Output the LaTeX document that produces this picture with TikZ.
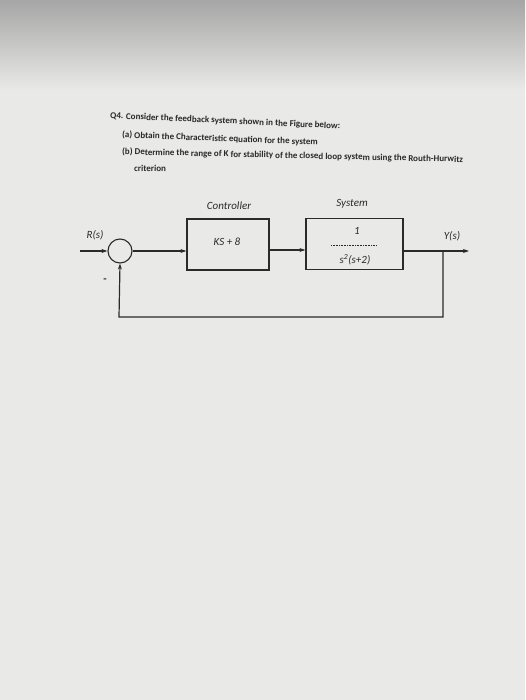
\documentclass[tikz,border=0pt]{standalone}
\usepackage{fontspec}
\setmainfont{Carlito}
\usetikzlibrary{arrows.meta}
\definecolor{paper}{HTML}{E9E9E7}
\definecolor{ink}{HTML}{2A2A2A}
\begin{document}
\begin{tikzpicture}[x=1pt,y=-1pt,
  qtext/.style={anchor=west,inner sep=0pt,font=\fontsize{9}{10}\selectfont\bfseries,text=ink},
  dlabel/.style={inner sep=0pt,font=\fontsize{11}{12}\selectfont\itshape,text=ink},
  blockbox/.style={draw=ink,line width=1.2pt,minimum width=82pt,minimum height=51pt,inner sep=0pt},
  sumnode/.style={draw=ink,line width=1.1pt,circle,minimum size=24pt,inner sep=0pt},
  wire/.style={draw=ink,line width=1.2pt},
  arr/.style={wire,-{Stealth[length=6pt,width=4pt]}}]
\useasboundingbox (0,0) rectangle (525,700);
\fill[paper] (0,0) rectangle (525,700);
\shade[top color=black!35,bottom color=paper] (0,0) rectangle (525,90);
% question text
\node[qtext,rotate=-2.6] (q0) at (110,116) {Q4. Consider the feedback system shown in the Figure below:};
\node[qtext,rotate=-2.2] (qa) at (122,135) {(a) Obtain the Characteristic equation for the system};
\node[qtext,rotate=-1.3] (qb) at (122,152) {(b) Determine the range of K for stability of the closed loop system using the Routh-Hurwitz};
\node[qtext,rotate=-1] (qc) at (134,168) {criterion};
% diagram
\node[sumnode] (sum) at (120,251) {};
\node[blockbox,minimum width=82pt] (ctrl) at (228,244.5) {};
\node[blockbox,minimum width=97pt] (sys) at (354.5,244) {};
\node[dlabel] (ctrll) at (229,206) {Controller};
\node[dlabel] (sysl) at (352,204) {System};
\node[dlabel] (kslab) at (227,242) {KS + 8};
\node[dlabel] (one) at (357,231) {1};
\node[dlabel] (den) at (355,260) {s\textsuperscript{2}(s+2)};
\coordinate (dl) at (331,245);
\coordinate (dr) at (377,245);
\draw[ink,line width=0.5pt,dash pattern=on 1pt off 0.6pt] (dl) -- (dr);
\node[dlabel] (rs) at (95,235) {R(s)};
\node[dlabel] (ys) at (452,236) {Y(s)};
\node[dlabel,font=\fontsize{11}{11}\selectfont\bfseries] (minus) at (105,281) {-};
\coordinate (in) at (80,251);
\coordinate (out) at (469,251);
\coordinate (br) at (443,251);
\coordinate (bd) at (443,317);
\coordinate (bl) at (119,317);
\draw[arr] (in) -- (sum.west);
\draw[arr] (sum.east) -- (ctrl.west |- sum.east);
\draw[arr] (ctrl.east |- 0,250) -- (sys.west |- 0,250);
\draw[arr] (sys.east |- out) -- (out);
\draw[arr] (br) -- (bd) -- (bl) -- (sum.south);
\end{tikzpicture}
\end{document}
